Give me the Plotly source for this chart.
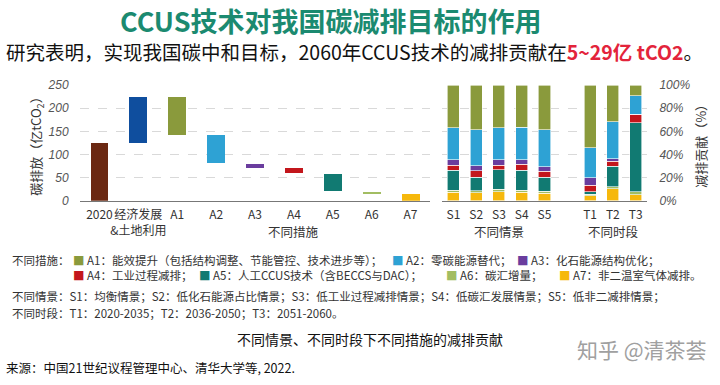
import plotly.graph_objects as go

# ---- Data ----
steps = ["2020", "经济发展<br>&土地利用", "A1", "A2", "A3", "A4", "A5", "A6", "A7"]
step_low = [0, 125, 142, 81, 71, 60, 20, 15, 0]
step_high = [124, 224, 224, 142, 80, 70, 58, 18, 15]
step_colors = ["#6B2812", "#0F4E9E", "#8A9A3C", "#2EA2D4", "#6A3D9E", "#C3161C", "#117A72", "#A2BD62", "#F6B80C"]

groups = ["S1", "S2", "S3", "S4", "S5", "T1", "T2", "T3"]
group_slots = ["S1", "S2", "S3", "S4", "S5", "gap", "T1", "T2", "T3"]
measures = ["A7", "A6", "A5", "A4", "A3", "A2", "A1"]
measure_colors = ["#F6B80C", "#A2BD62", "#117A72", "#C3161C", "#6A3D9E", "#2EA2D4", "#8A9A3C"]
share = {
    "A7": [7.5, 7.0, 7.8, 7.5, 6.4, 4.2, 10.5, 5.0],
    "A6": [1.7, 1.4, 1.9, 1.7, 1.7, 1.5, 1.4, 2.8],
    "A5": [17.2, 12.0, 16.9, 17.2, 12.2, 2.2, 18.0, 59.6],
    "A4": [4.4, 5.5, 4.2, 5.0, 5.0, 5.5, 4.2, 6.9],
    "A3": [4.4, 4.2, 4.7, 4.2, 4.2, 6.4, 2.2, 0.5],
    "A2": [28.0, 31.3, 27.7, 27.7, 31.9, 26.0, 31.9, 16.1],
    "A1": [36.8, 38.6, 36.8, 36.7, 38.6, 54.2, 31.8, 9.1],
}
y_ticks_left = [0, 50, 100, 150, 200, 250]
y_ticks_right = [0, 0.2, 0.4, 0.6, 0.8, 1.0]

FONT = "Noto Sans CJK SC, Noto Sans, sans-serif"
W, H = 720, 385


def py(pix):
    return 1 - pix / H


def px(pix):
    return pix / W


fig = go.Figure()

fig.add_trace(go.Bar(
    x=steps, y=[h - l for l, h in zip(step_low, step_high)], base=step_low,
    marker=dict(color=step_colors, line=dict(width=0)), width=0.46,
    xaxis="x", yaxis="y", showlegend=False, hoverinfo="skip"))

for m, c in zip(measures, measure_colors):
    fig.add_trace(go.Bar(
        x=groups, y=[v / 100 for v in share[m]], name=m,
        marker=dict(color=c, line=dict(color="white", width=0.6)), width=0.53,
        xaxis="x2", yaxis="y2", showlegend=False, hoverinfo="skip"))

ydom = [py(201), py(81)]
tickfont = dict(family="Liberation Sans, Arial, sans-serif", size=12, color="#555", style="italic")
xtickfont = dict(family=FONT, size=12, color="#333")
fig.update_layout(
    width=W, height=H, margin=dict(l=0, r=0, t=0, b=0),
    paper_bgcolor="white", plot_bgcolor="white",
    barmode="stack",
    font=dict(family=FONT, color="#333"),
    xaxis=dict(domain=[px(80), px(430)], categoryorder="array", categoryarray=steps,
               showline=True, linecolor="#777", linewidth=1.2, showgrid=False,
               ticks="outside", ticklen=3, tickcolor="rgba(0,0,0,0)",
               tickangle=0, tickfont=xtickfont),
    yaxis=dict(domain=ydom, range=[0, 250], tickvals=y_ticks_left, showline=False,
               showgrid=True, gridcolor="#d9d9d9", griddash="dash", gridwidth=1,
               zeroline=False, tickfont=tickfont, ticks="outside", ticklen=8,
               tickcolor="rgba(0,0,0,0)"),
    xaxis2=dict(domain=[px(442), px(647)], categoryorder="array", categoryarray=group_slots,
                tickvals=groups, showline=True, linecolor="#777", linewidth=1.2,
                ticks="outside", ticklen=3, tickcolor="rgba(0,0,0,0)",
                tickangle=0, showgrid=False, tickfont=xtickfont, anchor="y2"),
    yaxis2=dict(domain=ydom, range=[0, 1], tickvals=y_ticks_right, tickformat=".0%",
                side="right", anchor="x2", showline=False, showgrid=True, gridcolor="#d9d9d9",
                griddash="dash", zeroline=False, tickfont=tickfont, ticks="outside",
                ticklen=9, tickcolor="rgba(0,0,0,0)"),
)

ann = []
# Title and subtitle
ann.append(dict(text="<b>CCUS技术对我国碳减排目标的作用</b>", x=px(331), y=py(14),
                font=dict(size=27, color="#1B8A70", family=FONT)))
ann.append(dict(text="研究表明，实现我国碳中和目标，2060年CCUS技术的减排贡献在"
                     "<span style='color:#E3243B'><b>5~29亿 tCO2</b></span>。",
                x=px(4), y=py(46), xanchor="left", font=dict(size=19.5, color="#111", family=FONT)))
# axis titles
ann.append(dict(text="碳排放（亿tCO<sub>2</sub>）", x=px(37), y=py(141), textangle=-90,
                font=dict(size=13, color="#333", family=FONT)))
ann.append(dict(text="减排贡献（%）", x=px(701), y=py(141), textangle=-90,
                font=dict(size=13, color="#333", family=FONT)))
# group labels
ann.append(dict(text="不同措施", x="A4", xref="x", y=py(233), yref="paper",
                font=dict(size=12.5, color="#333", family=FONT)))
ann.append(dict(text="不同情景", x="S3", xref="x2", y=py(233), yref="paper",
                font=dict(size=12.5, color="#333", family=FONT)))
ann.append(dict(text="不同时段", x="T2", xref="x2", y=py(233), yref="paper",
                font=dict(size=12.5, color="#333", family=FONT)))

LF = dict(size=11.5, color="#333", family=FONT)


def sq(c):
    return f"<span style='color:{c}'>■</span> "


col = dict(zip(measures, measure_colors))
legend_items = [
    ("不同措施：", 10, 263),
    (sq(col["A1"]) + "A1：能效提升（包括结构调整、节能管控、技术进步等）；", 71, 263),
    (sq(col["A2"]) + "A2：零碳能源替代；", 390, 263),
    (sq(col["A3"]) + "A3：化石能源结构优化；", 515, 263),
    (sq(col["A4"]) + "A4：工业过程减排；", 71, 278),
    (sq(col["A5"]) + "A5：人工CCUS技术（含BECCS与DAC）；", 197, 278),
    (sq(col["A6"]) + "A6：碳汇增量；", 444, 278),
    (sq(col["A7"]) + "A7：非二温室气体减排。", 557, 278),
    ("不同情景：S1：均衡情景；S2：低化石能源占比情景；S3：低工业过程减排情景；S4：低碳汇发展情景；S5：低非二减排情景；", 10, 300),
    ("不同时段：T1：2020-2035；T2：2036-2050；T3：2051-2060。", 10, 318),
]
for t, x0, y0 in legend_items:
    ann.append(dict(text=t, x=px(x0), y=py(y0), xanchor="left", font=LF))

ann.append(dict(text="不同情景、不同时段下不同措施的减排贡献", x=px(370), y=py(345),
                font=dict(size=14, color="#111", family=FONT)))
ann.append(dict(text="来源：中国21世纪议程管理中心、清华大学等, 2022.", x=px(4), y=py(374),
                xanchor="left", font=dict(size=12.5, color="#111", family=FONT)))
ann.append(dict(text="知乎 @清茶荟", x=px(575), y=py(355), xanchor="left",
                font=dict(size=21, color="#a0a0a0", family=FONT)))

for a in ann:
    a.setdefault("xref", "paper")
    a.setdefault("yref", "paper")
    a.setdefault("showarrow", False)
    a.setdefault("xanchor", "center")
    a.setdefault("yanchor", "middle")
fig.update_layout(annotations=ann)

fig.write_html("out.html", config={"displayModeBar": False},
               post_script="document.body.style.margin='0px';document.body.style.padding='0px';")
